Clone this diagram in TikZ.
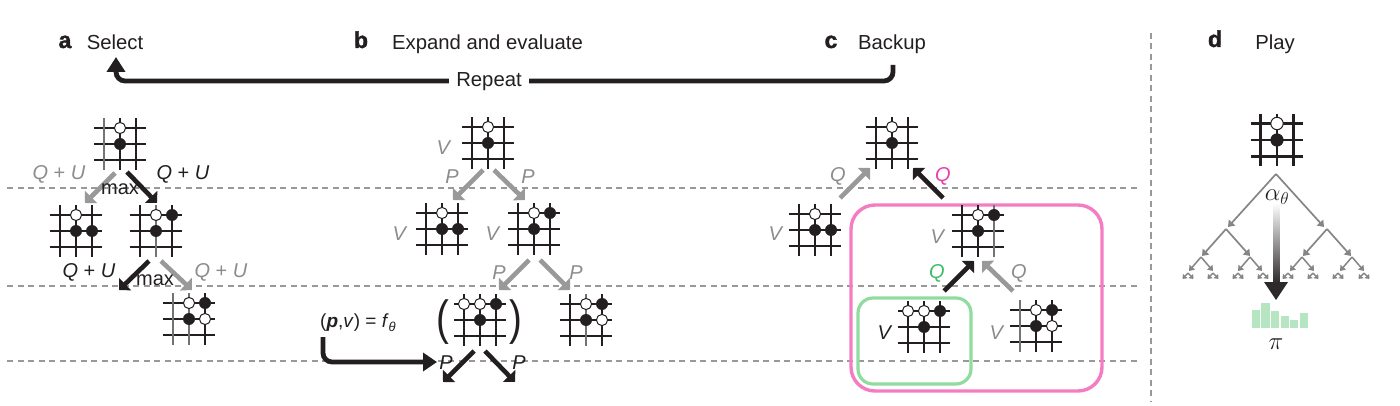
\documentclass[tikz,border=0pt]{standalone}
\usepackage{fontspec}
\setmainfont{Liberation Sans}
\newfontface\heavyface[FakeBold=1.6]{Liberation Sans Bold}
\usetikzlibrary{arrows.meta,shadings}
\definecolor{ink}{HTML}{231F20}
\definecolor{mygray}{HTML}{999999}
\definecolor{lblgray}{HTML}{8C8C8C}
\definecolor{mypink}{HTML}{F47CC3}
\definecolor{mygreen}{HTML}{90DC9E}
\definecolor{qpink}{HTML}{E63FA8}
\definecolor{qgreen}{HTML}{3DBB6A}
\definecolor{barcol}{HTML}{B6E5C2}
\definecolor{treegray}{HTML}{858585}
\tikzset{
  boardbox/.style={inner sep=0pt,minimum size=51pt},
  gridline/.style={line width=1.8pt,ink},
  grayline/.style={line width=1.8pt,white!45!black},
  divider/.style={line width=1.2pt,mygray,dash pattern=on 6pt off 4.5pt},
  arrgray/.style={line width=4.6pt,mygray,-{Triangle[width=17pt,length=8.5pt]}},
  arrblack/.style={line width=4.6pt,ink,-{Triangle[width=17pt,length=8.5pt]}},
  bigarrow/.style={line width=4.8pt,ink,rounded corners=9pt,-{Triangle[width=18pt,length=15pt]}},
  treearrow/.style={line width=1.7pt,treegray,-{Triangle[width=8.5pt,length=6pt]}},
  treesmall/.style={line width=1.5pt,treegray,-{Triangle[width=7pt,length=5pt]}},
  treetiny/.style={line width=1.4pt,treegray,-{Triangle[width=6pt,length=4pt]}},
  lbl/.style={inner sep=0pt,yshift=-1pt,font=\fontsize{20}{24}\selectfont},
  glbl/.style={lbl,text=lblgray},
  head/.style={inner sep=0pt,anchor=base,font=\fontsize{20.3}{24}\selectfont,text=ink},
  tag/.style={inner sep=0pt,anchor=base,font=\fontsize{23}{26}\heavyface,text=ink},
  paren/.style={inner sep=0pt,font=\fontsize{48}{52}\selectfont,text=ink,xscale=0.8},
}
\def\wrad{5.6pt}
\def\brad{6pt}
\newcommand{\board}[7][16]{%
  \node[boardbox] (#2) at (#3,#4) {};
  \begin{scope}[shift={(#3,#4)}]
    \foreach \k in {-1,0,1} {
      \draw[gridline] (-#1*1.6,\k*#1) -- (#1*1.6,\k*#1);
      \draw[gridline] (\k*#1,-#1*1.6) -- (\k*#1,#1*1.6);
    }
    \foreach \k in {#5} {\ifnum\k<2 \draw[grayline] (\k*#1,-#1*1.6) -- (\k*#1,#1*1.6);\fi}
    \foreach \i/\j in {#6} {\draw[line width=1pt,ink,fill=white] (\i*#1,\j*#1) circle (\wrad);}
    \foreach \i/\j in {#7} {\fill[ink] (\i*#1,\j*#1) circle (\brad);}
  \end{scope}
}
\newcommand{\arr}[5]{\draw[#1] ([shift={(#3)}]#2.center) -- ([shift={(#5)}]#4.center);}
\newcommand{\qu}{\textit{Q} + \textit{U}}
\begin{document}
\begin{tikzpicture}[x=1pt,y=-1pt]
\useasboundingbox (0,0) rectangle (1400,406);
% dividers
\coordinate (l1a) at (7,188); \coordinate (l1b) at (1141,188);
\coordinate (l2a) at (7,286); \coordinate (l2b) at (1141,286);
\coordinate (l3a) at (7,361); \coordinate (l3b) at (1141,361);
\coordinate (vd1) at (1151,33); \coordinate (vd2) at (1151,402);
\draw[divider] (l1a) -- (l1b);
\draw[divider] (l2a) -- (l2b);
\draw[divider] (l3a) -- (l3b);
\draw[divider] (vd1) -- (vd2);
% headings
\node[tag] (ta) at (65,48) {a};
\node[head] (ha) at (115,50) {Select};
\node[tag] (tb) at (361,48) {b};
\node[head] (hb) at (487.5,50) {Expand and evaluate};
\node[tag] (tc) at (831,48) {c};
\node[head] (hc) at (892,50) {Backup};
\node[tag] (td) at (1215,47) {d};
\node[head] (hd) at (1275,50) {Play};
% repeat
\coordinate (rs) at (893,65);
\coordinate (re) at (116,57);
\coordinate (rm) at (489,81);
\draw[bigarrow] (rs) -- (rs|-rm) -- (re|-rm) -- (re);
\node[head,fill=white,inner xsep=7pt,inner ysep=3pt] (rp) at (489,87) {Repeat};
% frames
\draw[line width=3.4pt,mypink,rounded corners=24pt] (851,205) rectangle (1102,391);
\draw[line width=3.2pt,mygreen,rounded corners=15pt] (858,298) rectangle (971,384);
% a
\board{a1}{120}{144}{-1}{0/-1}{0/0}
\board{a2}{76}{231}{9}{0/-1}{0/0,1/0}
\board{a3}{156}{231}{0}{0/-1}{1/-1,0/0}
\board{a4}{189}{319}{-1,0}{0/-1,1/0}{1/-1,0/0}
\coordinate (a5) at (119,290);
\arr{arrgray}{a1}{-5,29}{a2}{9,-28}
\arr{arrblack}{a1}{7,28}{a3}{1,-28}
\draw[arrblack] ([shift={(-7,30)}]a3.center) -- (a5);
\arr{arrgray}{a3}{5,30}{a4}{3,-29}
\node[glbl] (qa1) at (59,173) {\qu};
\node[lbl,text=ink] (qa2) at (183,173) {\qu};
\node[lbl,text=ink] (ma1) at (120,188) {max};
\node[lbl,text=ink] (qa3) at (89,271) {\qu};
\node[lbl,text=ink] (ma2) at (155,279) {max};
\node[glbl] (qa4) at (221,271) {\qu};
% b
\board{b1}{488}{143}{9}{0/-1}{0/0}
\board{b2}{442}{229}{9}{0/-1}{0/0,1/0}
\board{b3}{534}{229}{9}{0/-1}{1/-1,0/0}
\board{b4}{480}{320}{9}{-1/-1,0/-1}{1/-1,0/0}
\board{b5}{586}{320}{0}{0/-1,1/0}{1/-1,0/0}
\coordinate (b6) at (443,382);
\coordinate (b7) at (515,382);
\arr{arrgray}{b1}{-5,27}{b2}{11,-29}
\arr{arrgray}{b1}{6,27}{b3}{-9,-29}
\arr{arrgray}{b3}{-5,31}{b4}{19,-30}
\arr{arrgray}{b3}{6,31}{b5}{-16,-30}
\draw[arrblack] ([shift={(-6,31)}]b4.center) -- (b6);
\draw[arrblack] ([shift={(5,31)}]b4.center) -- (b7);
\node[glbl] (vb1) at (444,147) {\textit{V}};
\node[glbl] (vb2) at (400,233) {\textit{V}};
\node[glbl] (vb3) at (493,233) {\textit{V}};
\node[glbl] (pb1) at (452,176) {\textit{P}};
\node[glbl] (pb2) at (528,176) {\textit{P}};
\node[glbl] (pb3) at (499,272) {\textit{P}};
\node[glbl] (pb4) at (576,272) {\textit{P}};
\node[lbl,text=ink] (pb5) at (446,362) {\textit{P}};
\node[lbl,text=ink] (pb6) at (519,362) {\textit{P}};
\node[paren] (pl) at (443,322) {(};
\node[paren] (pr) at (516,322) {)};
\node[lbl,text=ink,font=\fontsize{19}{23}\selectfont] (fn) at (358,322) {(\textbf{\textit{p}},\textit{v}) = \textit{f}\raisebox{-4pt}{\fontsize{13}{13}\selectfont\textit{θ}}};
\coordinate (fs) at (323,337);
\coordinate (ft) at (437,362);
\draw[bigarrow,-{Triangle[width=18pt,length=14pt]}] (fs) -- (fs|-ft) -- (ft);
% c
\board{c1}{892}{143}{9}{0/-1}{0/0}
\board{c2}{815}{230}{9}{0/-1}{0/0,1/0}
\board{c3}{978}{231}{1}{0/-1}{1/-1,0/0}
\board{c4}{924}{327}{9}{-1/-1,0/-1}{1/-1,0/0}
\board{c5}{1036}{326}{-1}{0/-1,1/0}{1/-1,0/0}
\arr{arrgray}{c2}{25,-32}{c1}{-22,25}
\arr{arrblack}{c3}{-35,-33}{c1}{21,25}
\arr{arrblack}{c4}{20,-36}{c3}{-4,30}
\arr{arrgray}{c5}{-23,-35}{c3}{4,30}
\node[glbl] (qc1) at (838,175) {\textit{Q}};
\node[lbl,text=qpink] (qc2) at (943,175) {\textit{Q}};
\node[glbl] (vc1) at (776,233) {\textit{V}};
\node[glbl] (vc2) at (938,236) {\textit{V}};
\node[lbl,text=qgreen] (qc3) at (937,272) {\textit{Q}};
\node[glbl] (qc4) at (1019,272) {\textit{Q}};
\node[lbl,text=ink] (vc3) at (885,332) {\textit{V}};
\node[glbl] (vc4) at (997,332) {\textit{V}};
% d
\begin{scope}[gridline/.append style={line width=2.2pt}]
\def\wrad{6.2pt}
\def\brad{6.6pt}
\board[16.5]{d1}{1277}{140}{9}{0/-1}{0/0}
\end{scope}
\coordinate (ap) at (1276,174);
\draw[treearrow] (ap) -- ++(-48,53);
\draw[treearrow] (ap) -- ++(48,53);
\foreach \x in {1226,1327} {
  \coordinate (tb\x) at (\x,229);
  \draw[treearrow] (tb\x) -- ++(-24,27);
  \draw[treearrow] (tb\x) -- ++(24,27);
}
\foreach \x in {1201,1250,1302,1352} {
  \coordinate (tc\x) at (\x,257);
  \draw[treesmall] (tc\x) -- ++(-12,14);
  \draw[treesmall] (tc\x) -- ++(12,14);
}
\foreach \x in {1188,1213,1238,1263,1288,1313,1338,1364} {
  \coordinate (td\x) at (\x,273);
  \draw[treetiny] (td\x) -- ++(-5.5,6);
  \draw[treetiny] (td\x) -- ++(5.5,6);
}
\shade[top color=white,bottom color=ink!95!white] (1273,203) rectangle (1279.5,283);
\fill[ink!95!white] (1264,282) -- (1288,282) -- (1276,300) -- cycle;
\foreach \xa/\xb/\yt in {1252/1260.3/310,1261.3/1270/303,1271.3/1279.3/311,1280.7/1289.3/316,1290/1298.3/320,1300/1308/313} {
  \fill[barcol] (\xa,\yt) rectangle (\xb,328);
}
\node[lbl,text=ink,font=\fontsize{24}{28}\selectfont] (al) at (1277,196) {$\alpha_\theta$};
\node[lbl,text=ink,font=\fontsize{24}{28}\selectfont] (pi) at (1276,343) {$\pi$};
\end{tikzpicture}
\end{document}
